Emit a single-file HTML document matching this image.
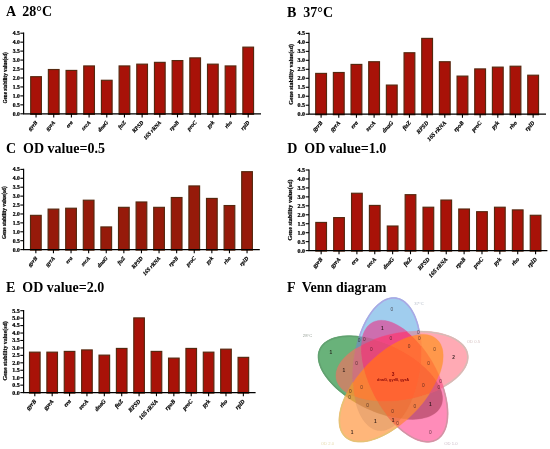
<!DOCTYPE html><html><head><meta charset="utf-8"><title>Figure</title><style>html,body{margin:0;padding:0;background:#fff}svg{display:block}text{font-family:"Liberation Serif",serif;font-weight:bold;fill:#000}.t{font-size:14px}.k{font-size:5.6px;text-anchor:end;stroke:#000;stroke-width:.22px}.yl{font-size:5.6px;text-anchor:middle;stroke:#000;stroke-width:.2px}.g{font-size:5.5px;font-style:italic;text-anchor:end;stroke:#000;stroke-width:.2px}.v{font-family:"Liberation Sans",sans-serif;font-size:4.8px;font-weight:normal;text-anchor:middle;fill:#2a1515}.vl{font-family:"Liberation Sans",sans-serif;font-size:4.2px;font-weight:normal;text-anchor:middle}</style></head><body>
<svg width="550" height="449" viewBox="0 0 550 449">
<rect width="550" height="449" fill="#fff"/>
<text class="t" x="6" y="15.6" xml:space="preserve">A  28°C</text>
<rect x="30.70" y="76.69" width="10.70" height="37.61" fill="#A81208" stroke="#55280F" stroke-width="1.15"/>
<rect x="48.38" y="69.52" width="10.70" height="44.78" fill="#A81208" stroke="#55280F" stroke-width="1.15"/>
<rect x="66.06" y="70.42" width="10.70" height="43.88" fill="#A81208" stroke="#55280F" stroke-width="1.15"/>
<rect x="83.74" y="65.94" width="10.70" height="48.36" fill="#A81208" stroke="#55280F" stroke-width="1.15"/>
<rect x="101.42" y="80.27" width="10.70" height="34.03" fill="#A81208" stroke="#55280F" stroke-width="1.15"/>
<rect x="119.10" y="65.94" width="10.70" height="48.36" fill="#A81208" stroke="#55280F" stroke-width="1.15"/>
<rect x="136.78" y="64.15" width="10.70" height="50.15" fill="#A81208" stroke="#55280F" stroke-width="1.15"/>
<rect x="154.46" y="62.36" width="10.70" height="51.94" fill="#A81208" stroke="#55280F" stroke-width="1.15"/>
<rect x="172.14" y="60.57" width="10.70" height="53.73" fill="#A81208" stroke="#55280F" stroke-width="1.15"/>
<rect x="189.82" y="57.88" width="10.70" height="56.42" fill="#A81208" stroke="#55280F" stroke-width="1.15"/>
<rect x="207.50" y="64.15" width="10.70" height="50.15" fill="#A81208" stroke="#55280F" stroke-width="1.15"/>
<rect x="225.18" y="65.94" width="10.70" height="48.36" fill="#A81208" stroke="#55280F" stroke-width="1.15"/>
<rect x="242.86" y="47.13" width="10.70" height="67.17" fill="#A81208" stroke="#55280F" stroke-width="1.15"/>
<path d="M23.6 32.6V113.8H261" fill="none" stroke="#000" stroke-width="1.2"/>
<path d="M20.3 113.80H23.6" stroke="#000" stroke-width="1.1"/>
<text class="k" style="font-size:5.6px" x="19.700000000000003" y="115.70">0.0</text>
<path d="M20.3 104.84H23.6" stroke="#000" stroke-width="1.1"/>
<text class="k" style="font-size:5.6px" x="19.700000000000003" y="106.74">0.5</text>
<path d="M20.3 95.89H23.6" stroke="#000" stroke-width="1.1"/>
<text class="k" style="font-size:5.6px" x="19.700000000000003" y="97.79">1.0</text>
<path d="M20.3 86.93H23.6" stroke="#000" stroke-width="1.1"/>
<text class="k" style="font-size:5.6px" x="19.700000000000003" y="88.83">1.5</text>
<path d="M20.3 77.98H23.6" stroke="#000" stroke-width="1.1"/>
<text class="k" style="font-size:5.6px" x="19.700000000000003" y="79.88">2.0</text>
<path d="M20.3 69.02H23.6" stroke="#000" stroke-width="1.1"/>
<text class="k" style="font-size:5.6px" x="19.700000000000003" y="70.92">2.5</text>
<path d="M20.3 60.07H23.6" stroke="#000" stroke-width="1.1"/>
<text class="k" style="font-size:5.6px" x="19.700000000000003" y="61.97">3.0</text>
<path d="M20.3 51.11H23.6" stroke="#000" stroke-width="1.1"/>
<text class="k" style="font-size:5.6px" x="19.700000000000003" y="53.01">3.5</text>
<path d="M20.3 42.16H23.6" stroke="#000" stroke-width="1.1"/>
<text class="k" style="font-size:5.6px" x="19.700000000000003" y="44.06">4.0</text>
<path d="M20.3 33.20H23.6" stroke="#000" stroke-width="1.1"/>
<text class="k" style="font-size:5.6px" x="19.700000000000003" y="35.10">4.5</text>
<path d="M36.05 113.8v3.6" stroke="#000" stroke-width="1.1"/>
<text class="g" style="font-size:5.5px" transform="translate(37.85 122.80) rotate(-47)">gyrB</text>
<path d="M53.73 113.8v3.6" stroke="#000" stroke-width="1.1"/>
<text class="g" style="font-size:5.5px" transform="translate(55.53 122.80) rotate(-47)">gyrA</text>
<path d="M71.41 113.8v3.6" stroke="#000" stroke-width="1.1"/>
<text class="g" style="font-size:5.5px" transform="translate(73.21 122.80) rotate(-47)">era</text>
<path d="M89.09 113.8v3.6" stroke="#000" stroke-width="1.1"/>
<text class="g" style="font-size:5.5px" transform="translate(90.89 122.80) rotate(-47)">secA</text>
<path d="M106.77 113.8v3.6" stroke="#000" stroke-width="1.1"/>
<text class="g" style="font-size:5.5px" transform="translate(108.57 122.80) rotate(-47)">dnaG</text>
<path d="M124.45 113.8v3.6" stroke="#000" stroke-width="1.1"/>
<text class="g" style="font-size:5.5px" transform="translate(126.25 122.80) rotate(-47)">ftsZ</text>
<path d="M142.13 113.8v3.6" stroke="#000" stroke-width="1.1"/>
<text class="g" style="font-size:5.5px" transform="translate(143.93 122.80) rotate(-47)">RPSD</text>
<path d="M159.81 113.8v3.6" stroke="#000" stroke-width="1.1"/>
<text class="g" style="font-size:5.5px" transform="translate(161.61 122.80) rotate(-47)">16S rRNA</text>
<path d="M177.49 113.8v3.6" stroke="#000" stroke-width="1.1"/>
<text class="g" style="font-size:5.5px" transform="translate(179.29 122.80) rotate(-47)">rpoB</text>
<path d="M195.17 113.8v3.6" stroke="#000" stroke-width="1.1"/>
<text class="g" style="font-size:5.5px" transform="translate(196.97 122.80) rotate(-47)">proC</text>
<path d="M212.85 113.8v3.6" stroke="#000" stroke-width="1.1"/>
<text class="g" style="font-size:5.5px" transform="translate(214.65 122.80) rotate(-47)">pyk</text>
<path d="M230.53 113.8v3.6" stroke="#000" stroke-width="1.1"/>
<text class="g" style="font-size:5.5px" transform="translate(232.33 122.80) rotate(-47)">rho</text>
<path d="M248.21 113.8v3.6" stroke="#000" stroke-width="1.1"/>
<text class="g" style="font-size:5.5px" transform="translate(250.01 122.80) rotate(-47)">rplD</text>
<text class="yl" style="font-size:5.1px" transform="translate(6.68 77.80) rotate(-90)">Gene stability value(sd)</text>
<text class="t" x="287" y="17.4" xml:space="preserve">B  37°C</text>
<rect x="315.70" y="73.40" width="10.80" height="41.30" fill="#A81208" stroke="#55280F" stroke-width="1.15"/>
<rect x="333.37" y="72.50" width="10.80" height="42.20" fill="#A81208" stroke="#55280F" stroke-width="1.15"/>
<rect x="351.04" y="64.42" width="10.80" height="50.28" fill="#A81208" stroke="#55280F" stroke-width="1.15"/>
<rect x="368.71" y="61.73" width="10.80" height="52.97" fill="#A81208" stroke="#55280F" stroke-width="1.15"/>
<rect x="386.38" y="85.07" width="10.80" height="29.63" fill="#A81208" stroke="#55280F" stroke-width="1.15"/>
<rect x="404.05" y="52.75" width="10.80" height="61.95" fill="#A81208" stroke="#55280F" stroke-width="1.15"/>
<rect x="421.72" y="38.39" width="10.80" height="76.31" fill="#A81208" stroke="#55280F" stroke-width="1.15"/>
<rect x="439.39" y="61.73" width="10.80" height="52.97" fill="#A81208" stroke="#55280F" stroke-width="1.15"/>
<rect x="457.06" y="76.10" width="10.80" height="38.60" fill="#A81208" stroke="#55280F" stroke-width="1.15"/>
<rect x="474.73" y="68.91" width="10.80" height="45.79" fill="#A81208" stroke="#55280F" stroke-width="1.15"/>
<rect x="492.40" y="67.12" width="10.80" height="47.58" fill="#A81208" stroke="#55280F" stroke-width="1.15"/>
<rect x="510.07" y="66.22" width="10.80" height="48.48" fill="#A81208" stroke="#55280F" stroke-width="1.15"/>
<rect x="527.74" y="75.20" width="10.80" height="39.50" fill="#A81208" stroke="#55280F" stroke-width="1.15"/>
<path d="M309 32.8V114.2H546" fill="none" stroke="#000" stroke-width="1.2"/>
<path d="M305.7 114.20H309" stroke="#000" stroke-width="1.1"/>
<text class="k" style="font-size:6.0px" x="305.1" y="116.10">0.0</text>
<path d="M305.7 105.22H309" stroke="#000" stroke-width="1.1"/>
<text class="k" style="font-size:6.0px" x="305.1" y="107.12">0.5</text>
<path d="M305.7 96.24H309" stroke="#000" stroke-width="1.1"/>
<text class="k" style="font-size:6.0px" x="305.1" y="98.14">1.0</text>
<path d="M305.7 87.27H309" stroke="#000" stroke-width="1.1"/>
<text class="k" style="font-size:6.0px" x="305.1" y="89.17">1.5</text>
<path d="M305.7 78.29H309" stroke="#000" stroke-width="1.1"/>
<text class="k" style="font-size:6.0px" x="305.1" y="80.19">2.0</text>
<path d="M305.7 69.31H309" stroke="#000" stroke-width="1.1"/>
<text class="k" style="font-size:6.0px" x="305.1" y="71.21">2.5</text>
<path d="M305.7 60.33H309" stroke="#000" stroke-width="1.1"/>
<text class="k" style="font-size:6.0px" x="305.1" y="62.23">3.0</text>
<path d="M305.7 51.36H309" stroke="#000" stroke-width="1.1"/>
<text class="k" style="font-size:6.0px" x="305.1" y="53.26">3.5</text>
<path d="M305.7 42.38H309" stroke="#000" stroke-width="1.1"/>
<text class="k" style="font-size:6.0px" x="305.1" y="44.28">4.0</text>
<path d="M305.7 33.40H309" stroke="#000" stroke-width="1.1"/>
<text class="k" style="font-size:6.0px" x="305.1" y="35.30">4.5</text>
<path d="M321.10 114.2v3.6" stroke="#000" stroke-width="1.1"/>
<text class="g" style="font-size:5.9px" transform="translate(322.90 123.20) rotate(-47)">gyrB</text>
<path d="M338.77 114.2v3.6" stroke="#000" stroke-width="1.1"/>
<text class="g" style="font-size:5.9px" transform="translate(340.57 123.20) rotate(-47)">gyrA</text>
<path d="M356.44 114.2v3.6" stroke="#000" stroke-width="1.1"/>
<text class="g" style="font-size:5.9px" transform="translate(358.24 123.20) rotate(-47)">era</text>
<path d="M374.11 114.2v3.6" stroke="#000" stroke-width="1.1"/>
<text class="g" style="font-size:5.9px" transform="translate(375.91 123.20) rotate(-47)">secA</text>
<path d="M391.78 114.2v3.6" stroke="#000" stroke-width="1.1"/>
<text class="g" style="font-size:5.9px" transform="translate(393.58 123.20) rotate(-47)">dnaG</text>
<path d="M409.45 114.2v3.6" stroke="#000" stroke-width="1.1"/>
<text class="g" style="font-size:5.9px" transform="translate(411.25 123.20) rotate(-47)">ftsZ</text>
<path d="M427.12 114.2v3.6" stroke="#000" stroke-width="1.1"/>
<text class="g" style="font-size:5.9px" transform="translate(428.92 123.20) rotate(-47)">RPSD</text>
<path d="M444.79 114.2v3.6" stroke="#000" stroke-width="1.1"/>
<text class="g" style="font-size:5.9px" transform="translate(446.59 123.20) rotate(-47)">16S rRNA</text>
<path d="M462.46 114.2v3.6" stroke="#000" stroke-width="1.1"/>
<text class="g" style="font-size:5.9px" transform="translate(464.26 123.20) rotate(-47)">rpoB</text>
<path d="M480.13 114.2v3.6" stroke="#000" stroke-width="1.1"/>
<text class="g" style="font-size:5.9px" transform="translate(481.93 123.20) rotate(-47)">proC</text>
<path d="M497.80 114.2v3.6" stroke="#000" stroke-width="1.1"/>
<text class="g" style="font-size:5.9px" transform="translate(499.60 123.20) rotate(-47)">pyk</text>
<path d="M515.47 114.2v3.6" stroke="#000" stroke-width="1.1"/>
<text class="g" style="font-size:5.9px" transform="translate(517.27 123.20) rotate(-47)">rho</text>
<path d="M533.14 114.2v3.6" stroke="#000" stroke-width="1.1"/>
<text class="g" style="font-size:5.9px" transform="translate(534.94 123.20) rotate(-47)">rplD</text>
<text class="yl" style="font-size:6.05px" transform="translate(292.63 74.30) rotate(-90)">Gene stability value(sd)</text>
<text class="t" x="6" y="152.7" xml:space="preserve">C  OD value=0.5</text>
<rect x="30.50" y="215.35" width="10.70" height="34.75" fill="#961A0A" stroke="#55280F" stroke-width="1.15"/>
<rect x="48.10" y="209.11" width="10.70" height="40.99" fill="#961A0A" stroke="#55280F" stroke-width="1.15"/>
<rect x="65.70" y="208.22" width="10.70" height="41.88" fill="#961A0A" stroke="#55280F" stroke-width="1.15"/>
<rect x="83.30" y="200.20" width="10.70" height="49.90" fill="#961A0A" stroke="#55280F" stroke-width="1.15"/>
<rect x="100.90" y="226.93" width="10.70" height="23.17" fill="#961A0A" stroke="#55280F" stroke-width="1.15"/>
<rect x="118.50" y="207.33" width="10.70" height="42.77" fill="#961A0A" stroke="#55280F" stroke-width="1.15"/>
<rect x="136.10" y="201.98" width="10.70" height="48.12" fill="#961A0A" stroke="#55280F" stroke-width="1.15"/>
<rect x="153.70" y="207.33" width="10.70" height="42.77" fill="#961A0A" stroke="#55280F" stroke-width="1.15"/>
<rect x="171.30" y="197.52" width="10.70" height="52.58" fill="#961A0A" stroke="#55280F" stroke-width="1.15"/>
<rect x="188.90" y="185.94" width="10.70" height="64.16" fill="#961A0A" stroke="#55280F" stroke-width="1.15"/>
<rect x="206.50" y="198.42" width="10.70" height="51.68" fill="#961A0A" stroke="#55280F" stroke-width="1.15"/>
<rect x="224.10" y="205.54" width="10.70" height="44.56" fill="#961A0A" stroke="#55280F" stroke-width="1.15"/>
<rect x="241.70" y="171.68" width="10.70" height="78.42" fill="#961A0A" stroke="#55280F" stroke-width="1.15"/>
<path d="M23.6 168.8V249.6H259.8" fill="none" stroke="#000" stroke-width="1.2"/>
<path d="M20.3 249.60H23.6" stroke="#000" stroke-width="1.1"/>
<text class="k" style="font-size:5.6px" x="19.700000000000003" y="251.50">0.0</text>
<path d="M20.3 240.69H23.6" stroke="#000" stroke-width="1.1"/>
<text class="k" style="font-size:5.6px" x="19.700000000000003" y="242.59">0.5</text>
<path d="M20.3 231.78H23.6" stroke="#000" stroke-width="1.1"/>
<text class="k" style="font-size:5.6px" x="19.700000000000003" y="233.68">1.0</text>
<path d="M20.3 222.87H23.6" stroke="#000" stroke-width="1.1"/>
<text class="k" style="font-size:5.6px" x="19.700000000000003" y="224.77">1.5</text>
<path d="M20.3 213.96H23.6" stroke="#000" stroke-width="1.1"/>
<text class="k" style="font-size:5.6px" x="19.700000000000003" y="215.86">2.0</text>
<path d="M20.3 205.04H23.6" stroke="#000" stroke-width="1.1"/>
<text class="k" style="font-size:5.6px" x="19.700000000000003" y="206.94">2.5</text>
<path d="M20.3 196.13H23.6" stroke="#000" stroke-width="1.1"/>
<text class="k" style="font-size:5.6px" x="19.700000000000003" y="198.03">3.0</text>
<path d="M20.3 187.22H23.6" stroke="#000" stroke-width="1.1"/>
<text class="k" style="font-size:5.6px" x="19.700000000000003" y="189.12">3.5</text>
<path d="M20.3 178.31H23.6" stroke="#000" stroke-width="1.1"/>
<text class="k" style="font-size:5.6px" x="19.700000000000003" y="180.21">4.0</text>
<path d="M20.3 169.40H23.6" stroke="#000" stroke-width="1.1"/>
<text class="k" style="font-size:5.6px" x="19.700000000000003" y="171.30">4.5</text>
<path d="M35.85 249.6v3.6" stroke="#000" stroke-width="1.1"/>
<text class="g" style="font-size:5.5px" transform="translate(37.65 258.60) rotate(-47)">gyrB</text>
<path d="M53.45 249.6v3.6" stroke="#000" stroke-width="1.1"/>
<text class="g" style="font-size:5.5px" transform="translate(55.25 258.60) rotate(-47)">gyrA</text>
<path d="M71.05 249.6v3.6" stroke="#000" stroke-width="1.1"/>
<text class="g" style="font-size:5.5px" transform="translate(72.85 258.60) rotate(-47)">era</text>
<path d="M88.65 249.6v3.6" stroke="#000" stroke-width="1.1"/>
<text class="g" style="font-size:5.5px" transform="translate(90.45 258.60) rotate(-47)">secA</text>
<path d="M106.25 249.6v3.6" stroke="#000" stroke-width="1.1"/>
<text class="g" style="font-size:5.5px" transform="translate(108.05 258.60) rotate(-47)">dnaG</text>
<path d="M123.85 249.6v3.6" stroke="#000" stroke-width="1.1"/>
<text class="g" style="font-size:5.5px" transform="translate(125.65 258.60) rotate(-47)">ftsZ</text>
<path d="M141.45 249.6v3.6" stroke="#000" stroke-width="1.1"/>
<text class="g" style="font-size:5.5px" transform="translate(143.25 258.60) rotate(-47)">RPSD</text>
<path d="M159.05 249.6v3.6" stroke="#000" stroke-width="1.1"/>
<text class="g" style="font-size:5.5px" transform="translate(160.85 258.60) rotate(-47)">16S rRNA</text>
<path d="M176.65 249.6v3.6" stroke="#000" stroke-width="1.1"/>
<text class="g" style="font-size:5.5px" transform="translate(178.45 258.60) rotate(-47)">rpoB</text>
<path d="M194.25 249.6v3.6" stroke="#000" stroke-width="1.1"/>
<text class="g" style="font-size:5.5px" transform="translate(196.05 258.60) rotate(-47)">proC</text>
<path d="M211.85 249.6v3.6" stroke="#000" stroke-width="1.1"/>
<text class="g" style="font-size:5.5px" transform="translate(213.65 258.60) rotate(-47)">pyk</text>
<path d="M229.45 249.6v3.6" stroke="#000" stroke-width="1.1"/>
<text class="g" style="font-size:5.5px" transform="translate(231.25 258.60) rotate(-47)">rho</text>
<path d="M247.05 249.6v3.6" stroke="#000" stroke-width="1.1"/>
<text class="g" style="font-size:5.5px" transform="translate(248.85 258.60) rotate(-47)">rplD</text>
<text class="yl" style="font-size:5.25px" transform="translate(6.32 212.70) rotate(-90)">Gene stability value(sd)</text>
<text class="t" x="287.2" y="152.7" xml:space="preserve">D  OD value=1.0</text>
<rect x="315.80" y="222.44" width="10.70" height="28.66" fill="#A81208" stroke="#55280F" stroke-width="1.15"/>
<rect x="333.67" y="217.61" width="10.70" height="33.49" fill="#A81208" stroke="#55280F" stroke-width="1.15"/>
<rect x="351.54" y="193.25" width="10.70" height="57.85" fill="#A81208" stroke="#55280F" stroke-width="1.15"/>
<rect x="369.41" y="205.43" width="10.70" height="45.67" fill="#A81208" stroke="#55280F" stroke-width="1.15"/>
<rect x="387.28" y="226.02" width="10.70" height="25.08" fill="#A81208" stroke="#55280F" stroke-width="1.15"/>
<rect x="405.15" y="194.68" width="10.70" height="56.42" fill="#A81208" stroke="#55280F" stroke-width="1.15"/>
<rect x="423.02" y="207.22" width="10.70" height="43.88" fill="#A81208" stroke="#55280F" stroke-width="1.15"/>
<rect x="440.89" y="200.05" width="10.70" height="51.05" fill="#A81208" stroke="#55280F" stroke-width="1.15"/>
<rect x="458.76" y="209.01" width="10.70" height="42.09" fill="#A81208" stroke="#55280F" stroke-width="1.15"/>
<rect x="476.63" y="211.70" width="10.70" height="39.40" fill="#A81208" stroke="#55280F" stroke-width="1.15"/>
<rect x="494.50" y="207.22" width="10.70" height="43.88" fill="#A81208" stroke="#55280F" stroke-width="1.15"/>
<rect x="512.37" y="209.90" width="10.70" height="41.20" fill="#A81208" stroke="#55280F" stroke-width="1.15"/>
<rect x="530.24" y="215.28" width="10.70" height="35.82" fill="#A81208" stroke="#55280F" stroke-width="1.15"/>
<path d="M309 169.4V250.6H547.4" fill="none" stroke="#000" stroke-width="1.2"/>
<path d="M305.7 250.60H309" stroke="#000" stroke-width="1.1"/>
<text class="k" style="font-size:6.0px" x="305.1" y="252.50">0.0</text>
<path d="M305.7 241.64H309" stroke="#000" stroke-width="1.1"/>
<text class="k" style="font-size:6.0px" x="305.1" y="243.54">0.5</text>
<path d="M305.7 232.69H309" stroke="#000" stroke-width="1.1"/>
<text class="k" style="font-size:6.0px" x="305.1" y="234.59">1.0</text>
<path d="M305.7 223.73H309" stroke="#000" stroke-width="1.1"/>
<text class="k" style="font-size:6.0px" x="305.1" y="225.63">1.5</text>
<path d="M305.7 214.78H309" stroke="#000" stroke-width="1.1"/>
<text class="k" style="font-size:6.0px" x="305.1" y="216.68">2.0</text>
<path d="M305.7 205.82H309" stroke="#000" stroke-width="1.1"/>
<text class="k" style="font-size:6.0px" x="305.1" y="207.72">2.5</text>
<path d="M305.7 196.87H309" stroke="#000" stroke-width="1.1"/>
<text class="k" style="font-size:6.0px" x="305.1" y="198.77">3.0</text>
<path d="M305.7 187.91H309" stroke="#000" stroke-width="1.1"/>
<text class="k" style="font-size:6.0px" x="305.1" y="189.81">3.5</text>
<path d="M305.7 178.96H309" stroke="#000" stroke-width="1.1"/>
<text class="k" style="font-size:6.0px" x="305.1" y="180.86">4.0</text>
<path d="M305.7 170.00H309" stroke="#000" stroke-width="1.1"/>
<text class="k" style="font-size:6.0px" x="305.1" y="171.90">4.5</text>
<path d="M321.15 250.6v3.6" stroke="#000" stroke-width="1.1"/>
<text class="g" style="font-size:5.9px" transform="translate(322.95 259.60) rotate(-47)">gyrB</text>
<path d="M339.02 250.6v3.6" stroke="#000" stroke-width="1.1"/>
<text class="g" style="font-size:5.9px" transform="translate(340.82 259.60) rotate(-47)">gyrA</text>
<path d="M356.89 250.6v3.6" stroke="#000" stroke-width="1.1"/>
<text class="g" style="font-size:5.9px" transform="translate(358.69 259.60) rotate(-47)">era</text>
<path d="M374.76 250.6v3.6" stroke="#000" stroke-width="1.1"/>
<text class="g" style="font-size:5.9px" transform="translate(376.56 259.60) rotate(-47)">secA</text>
<path d="M392.63 250.6v3.6" stroke="#000" stroke-width="1.1"/>
<text class="g" style="font-size:5.9px" transform="translate(394.43 259.60) rotate(-47)">dnaG</text>
<path d="M410.50 250.6v3.6" stroke="#000" stroke-width="1.1"/>
<text class="g" style="font-size:5.9px" transform="translate(412.30 259.60) rotate(-47)">ftsZ</text>
<path d="M428.37 250.6v3.6" stroke="#000" stroke-width="1.1"/>
<text class="g" style="font-size:5.9px" transform="translate(430.17 259.60) rotate(-47)">RPSD</text>
<path d="M446.24 250.6v3.6" stroke="#000" stroke-width="1.1"/>
<text class="g" style="font-size:5.9px" transform="translate(448.04 259.60) rotate(-47)">16S rRNA</text>
<path d="M464.11 250.6v3.6" stroke="#000" stroke-width="1.1"/>
<text class="g" style="font-size:5.9px" transform="translate(465.91 259.60) rotate(-47)">rpoB</text>
<path d="M481.98 250.6v3.6" stroke="#000" stroke-width="1.1"/>
<text class="g" style="font-size:5.9px" transform="translate(483.78 259.60) rotate(-47)">proC</text>
<path d="M499.85 250.6v3.6" stroke="#000" stroke-width="1.1"/>
<text class="g" style="font-size:5.9px" transform="translate(501.65 259.60) rotate(-47)">pyk</text>
<path d="M517.72 250.6v3.6" stroke="#000" stroke-width="1.1"/>
<text class="g" style="font-size:5.9px" transform="translate(519.52 259.60) rotate(-47)">rho</text>
<path d="M535.59 250.6v3.6" stroke="#000" stroke-width="1.1"/>
<text class="g" style="font-size:5.9px" transform="translate(537.39 259.60) rotate(-47)">rplD</text>
<text class="yl" style="font-size:6.08px" transform="translate(292.34 210.00) rotate(-90)">Gene stability value(sd)</text>
<text class="t" x="6" y="292.1" xml:space="preserve">E  OD value=2.0</text>
<rect x="29.50" y="352.15" width="10.60" height="40.95" fill="#A81208" stroke="#55280F" stroke-width="1.15"/>
<rect x="46.88" y="352.15" width="10.60" height="40.95" fill="#A81208" stroke="#55280F" stroke-width="1.15"/>
<rect x="64.26" y="351.41" width="10.60" height="41.69" fill="#A81208" stroke="#55280F" stroke-width="1.15"/>
<rect x="81.64" y="349.92" width="10.60" height="43.18" fill="#A81208" stroke="#55280F" stroke-width="1.15"/>
<rect x="99.02" y="355.13" width="10.60" height="37.97" fill="#A81208" stroke="#55280F" stroke-width="1.15"/>
<rect x="116.40" y="348.43" width="10.60" height="44.67" fill="#A81208" stroke="#55280F" stroke-width="1.15"/>
<rect x="133.78" y="317.90" width="10.60" height="75.20" fill="#A81208" stroke="#55280F" stroke-width="1.15"/>
<rect x="151.16" y="351.41" width="10.60" height="41.69" fill="#A81208" stroke="#55280F" stroke-width="1.15"/>
<rect x="168.54" y="358.11" width="10.60" height="34.99" fill="#A81208" stroke="#55280F" stroke-width="1.15"/>
<rect x="185.92" y="348.43" width="10.60" height="44.67" fill="#A81208" stroke="#55280F" stroke-width="1.15"/>
<rect x="203.30" y="352.15" width="10.60" height="40.95" fill="#A81208" stroke="#55280F" stroke-width="1.15"/>
<rect x="220.68" y="349.17" width="10.60" height="43.93" fill="#A81208" stroke="#55280F" stroke-width="1.15"/>
<rect x="238.06" y="357.36" width="10.60" height="35.74" fill="#A81208" stroke="#55280F" stroke-width="1.15"/>
<path d="M23.6 310.09999999999997V392.6H255.6" fill="none" stroke="#000" stroke-width="1.2"/>
<path d="M20.3 392.60H23.6" stroke="#000" stroke-width="1.1"/>
<text class="k" style="font-size:6.0px" x="19.700000000000003" y="394.50">0.0</text>
<path d="M20.3 385.15H23.6" stroke="#000" stroke-width="1.1"/>
<text class="k" style="font-size:6.0px" x="19.700000000000003" y="387.05">0.5</text>
<path d="M20.3 377.71H23.6" stroke="#000" stroke-width="1.1"/>
<text class="k" style="font-size:6.0px" x="19.700000000000003" y="379.61">1.0</text>
<path d="M20.3 370.26H23.6" stroke="#000" stroke-width="1.1"/>
<text class="k" style="font-size:6.0px" x="19.700000000000003" y="372.16">1.5</text>
<path d="M20.3 362.82H23.6" stroke="#000" stroke-width="1.1"/>
<text class="k" style="font-size:6.0px" x="19.700000000000003" y="364.72">2.0</text>
<path d="M20.3 355.37H23.6" stroke="#000" stroke-width="1.1"/>
<text class="k" style="font-size:6.0px" x="19.700000000000003" y="357.27">2.5</text>
<path d="M20.3 347.93H23.6" stroke="#000" stroke-width="1.1"/>
<text class="k" style="font-size:6.0px" x="19.700000000000003" y="349.83">3.0</text>
<path d="M20.3 340.48H23.6" stroke="#000" stroke-width="1.1"/>
<text class="k" style="font-size:6.0px" x="19.700000000000003" y="342.38">3.5</text>
<path d="M20.3 333.04H23.6" stroke="#000" stroke-width="1.1"/>
<text class="k" style="font-size:6.0px" x="19.700000000000003" y="334.94">4.0</text>
<path d="M20.3 325.59H23.6" stroke="#000" stroke-width="1.1"/>
<text class="k" style="font-size:6.0px" x="19.700000000000003" y="327.49">4.5</text>
<path d="M20.3 318.15H23.6" stroke="#000" stroke-width="1.1"/>
<text class="k" style="font-size:6.0px" x="19.700000000000003" y="320.05">5.0</text>
<path d="M20.3 310.70H23.6" stroke="#000" stroke-width="1.1"/>
<text class="k" style="font-size:6.0px" x="19.700000000000003" y="312.60">5.5</text>
<path d="M34.80 392.6v3.6" stroke="#000" stroke-width="1.1"/>
<text class="g" style="font-size:5.9px" transform="translate(36.60 401.60) rotate(-47)">gyrB</text>
<path d="M52.18 392.6v3.6" stroke="#000" stroke-width="1.1"/>
<text class="g" style="font-size:5.9px" transform="translate(53.98 401.60) rotate(-47)">gyrA</text>
<path d="M69.56 392.6v3.6" stroke="#000" stroke-width="1.1"/>
<text class="g" style="font-size:5.9px" transform="translate(71.36 401.60) rotate(-47)">era</text>
<path d="M86.94 392.6v3.6" stroke="#000" stroke-width="1.1"/>
<text class="g" style="font-size:5.9px" transform="translate(88.74 401.60) rotate(-47)">secA</text>
<path d="M104.32 392.6v3.6" stroke="#000" stroke-width="1.1"/>
<text class="g" style="font-size:5.9px" transform="translate(106.12 401.60) rotate(-47)">dnaG</text>
<path d="M121.70 392.6v3.6" stroke="#000" stroke-width="1.1"/>
<text class="g" style="font-size:5.9px" transform="translate(123.50 401.60) rotate(-47)">ftsZ</text>
<path d="M139.08 392.6v3.6" stroke="#000" stroke-width="1.1"/>
<text class="g" style="font-size:5.9px" transform="translate(140.88 401.60) rotate(-47)">RPSD</text>
<path d="M156.46 392.6v3.6" stroke="#000" stroke-width="1.1"/>
<text class="g" style="font-size:5.9px" transform="translate(158.26 401.60) rotate(-47)">16S rRNA</text>
<path d="M173.84 392.6v3.6" stroke="#000" stroke-width="1.1"/>
<text class="g" style="font-size:5.9px" transform="translate(175.64 401.60) rotate(-47)">rpoB</text>
<path d="M191.22 392.6v3.6" stroke="#000" stroke-width="1.1"/>
<text class="g" style="font-size:5.9px" transform="translate(193.02 401.60) rotate(-47)">proC</text>
<path d="M208.60 392.6v3.6" stroke="#000" stroke-width="1.1"/>
<text class="g" style="font-size:5.9px" transform="translate(210.40 401.60) rotate(-47)">pyk</text>
<path d="M225.98 392.6v3.6" stroke="#000" stroke-width="1.1"/>
<text class="g" style="font-size:5.9px" transform="translate(227.78 401.60) rotate(-47)">rho</text>
<path d="M243.36 392.6v3.6" stroke="#000" stroke-width="1.1"/>
<text class="g" style="font-size:5.9px" transform="translate(245.16 401.60) rotate(-47)">rplD</text>
<text class="yl" style="font-size:5.92px" transform="translate(6.50 350.90) rotate(-90)">Gene stability value(sd)</text>
<text class="t" x="287" y="292.1" xml:space="preserve">F  Venn diagram</text>
<ellipse rx="67" ry="33.6" transform="translate(380.29 377.57) rotate(25.4)" fill="rgb(5, 127, 33)" fill-opacity="0.6"/>
<ellipse rx="67" ry="33.6" transform="translate(387.10 364.05) rotate(97.4)" fill="rgb(97, 172, 227)" fill-opacity="0.6"/>
<ellipse rx="67" ry="33.6" transform="translate(402.07 366.35) rotate(169.4)" fill="rgb(255, 113, 130)" fill-opacity="0.6"/>
<ellipse rx="67" ry="33.6" transform="translate(404.50 381.30) rotate(241.4)" fill="rgb(255, 63, 138)" fill-opacity="0.6"/>
<ellipse rx="67" ry="33.6" transform="translate(391.04 388.23) rotate(313.4)" fill="rgb(255, 130, 30)" fill-opacity="0.6"/>
<path d="M443.5,387.1 448.3,384.3 451.9,381.8 455.1,379.3 457.1,377.6 459.8,374.9 461.4,373.1 462.9,371.3 464.7,368.5 465.8,366.7 466.6,364.8 467.0,363.9 467.5,362.1 467.8,361.2 467.9,360.3 468.2,358.4 468.2,356.7 468.1,354.9 467.9,354.0 467.7,353.2 467.2,351.5 466.6,349.8 466.1,349.0 465.2,347.4 464.1,345.9 463.5,345.2 462.1,343.7 459.7,341.7 457.9,340.4 455.0,338.6 451.7,337.0 449.4,336.0 445.6,334.7 442.9,333.9 440.1,333.2 435.8,332.4 432.8,331.9 428.1,331.4 423.2,331.2 419.7,331.1 420.2,334.4 422.1,334.4 424.2,334.4 426.3,334.6 428.2,335.0 430.1,335.5 431.9,336.2 433.5,337.0 435.0,337.9 435.7,338.4 437.1,339.6 437.7,340.2 438.9,341.5 439.9,343.0 440.3,343.8 441.1,345.4 441.8,347.2 442.1,348.1 442.4,349.1 442.8,351.1 443.1,354.2 443.1,356.5 443.0,358.8 442.6,362.4 441.9,366.2 440.9,370.1 440.0,372.8 439.0,375.4 441.3,381.0 442.5,384.2Z" fill="rgb(255,170,180)" stroke="rgb(255,170,180)" stroke-width="0.4"/>
<path d="M359.0,336.4 353.4,335.9 350.5,335.8 346.3,335.8 342.3,336.1 339.8,336.5 336.2,337.2 332.9,338.2 330.9,339.0 328.0,340.4 327.2,340.9 325.6,342.0 324.8,342.5 323.4,343.8 322.2,345.1 321.6,345.8 320.6,347.3 319.8,348.8 319.1,350.5 318.8,351.3 318.4,353.0 318.3,353.9 318.1,355.8 318.1,357.7 318.3,359.6 318.9,362.6 319.5,364.7 320.7,367.9 322.2,371.1 324.2,374.3 326.5,377.6 328.2,379.8 330.0,382.0 333.1,385.2 335.2,387.4 338.7,390.5 342.5,393.6 345.3,395.7 346.8,392.7 345.3,391.7 343.6,390.4 342.1,389.0 340.7,387.5 339.5,386.0 338.4,384.5 337.6,382.9 336.9,381.2 336.4,379.5 336.2,378.7 336.1,377.8 335.9,376.0 336.0,374.3 336.2,372.5 336.4,371.5 336.9,369.7 337.5,367.9 338.9,365.1 340.6,362.3 342.7,359.6 345.2,356.9 348.0,354.3 351.1,351.7 353.4,350.1 355.7,348.5 357.1,342.7 358.1,339.4Z" fill="rgb(105,178,122)" stroke="rgb(105,178,122)" stroke-width="0.4"/>
<path d="M345.3,395.7 343.1,400.9 341.6,405.0 340.8,407.7 339.9,411.5 339.5,414.0 339.0,417.7 338.9,420.0 339.1,423.3 339.5,426.4 340.0,428.4 340.6,430.2 340.9,431.0 341.8,432.7 342.2,433.5 343.2,435.0 344.4,436.3 345.0,436.9 346.3,438.1 347.1,438.6 348.6,439.5 350.2,440.3 352.0,441.0 352.9,441.2 354.8,441.7 357.9,442.0 361.1,442.1 363.4,441.9 366.9,441.4 370.6,440.6 374.5,439.4 377.1,438.5 381.0,436.8 383.7,435.5 387.8,433.4 390.5,431.7 394.6,429.1 397.5,427.1 395.1,424.8 393.7,425.9 391.9,427.1 390.1,428.1 388.3,429.0 386.5,429.7 384.7,430.2 382.9,430.5 381.1,430.6 380.2,430.6 378.5,430.5 377.6,430.4 375.9,429.9 374.2,429.4 373.4,429.0 371.7,428.1 370.1,427.1 368.6,425.9 366.4,423.8 364.3,421.3 362.3,418.4 360.5,415.3 358.9,411.8 357.4,408.0 356.6,405.3 355.8,402.6 350.7,399.5 347.9,397.6Z" fill="rgb(255,182,122)" stroke="rgb(255,182,122)" stroke-width="0.4"/>
<path d="M397.5,427.1 400.6,429.9 404.0,432.6 407.5,435.0 410.9,437.1 414.2,438.9 416.4,439.9 418.6,440.7 421.8,441.6 424.9,442.1 426.9,442.3 427.8,442.3 429.7,442.2 430.7,442.1 432.5,441.7 433.3,441.5 435.0,440.9 436.6,440.1 438.1,439.2 439.5,438.1 440.2,437.5 440.8,436.9 442.0,435.5 443.1,434.0 444.1,432.3 445.4,429.5 446.5,426.4 447.0,424.2 447.6,420.7 448.0,416.9 448.1,412.9 448.0,410.1 447.8,407.3 447.2,402.9 446.7,399.8 445.7,395.2 444.5,390.5 443.5,387.1 440.5,388.7 441.1,390.4 441.7,392.5 442.2,394.5 442.4,396.5 442.5,398.4 442.4,400.3 442.2,402.1 441.8,403.8 441.5,404.7 440.8,406.3 440.4,407.1 439.5,408.6 438.4,410.0 437.2,411.4 436.5,412.0 435.0,413.2 433.4,414.3 430.7,415.7 427.7,417.0 424.4,417.9 420.8,418.7 416.9,419.1 412.9,419.4 410.1,419.4 407.3,419.3 402.7,423.1 400.0,425.2Z" fill="rgb(255,140,185)" stroke="rgb(255,140,185)" stroke-width="0.4"/>
<path d="M419.7,331.1 418.4,325.6 417.2,321.5 415.8,317.6 414.8,315.1 413.7,312.8 411.9,309.7 409.9,306.8 408.5,305.1 406.4,302.9 405.6,302.2 404.1,301.0 402.5,300.0 400.8,299.1 400.0,298.7 398.3,298.2 396.6,297.7 395.7,297.6 394.0,297.5 393.1,297.5 391.3,297.6 389.5,297.9 388.6,298.2 387.7,298.4 385.9,299.1 384.1,300.0 381.4,301.6 379.7,302.9 377.0,305.1 375.3,306.8 372.8,309.7 371.2,311.8 368.9,315.2 366.6,318.9 365.2,321.5 363.2,325.6 361.9,328.5 360.2,333.1 359.0,336.4 362.3,336.9 362.9,335.1 363.6,333.1 364.4,331.2 365.4,329.5 366.4,327.9 367.6,326.4 368.9,325.1 370.2,323.9 370.9,323.4 372.4,322.5 374.0,321.7 374.8,321.4 376.6,320.9 378.3,320.5 379.3,320.4 381.2,320.3 382.1,320.3 383.1,320.4 385.1,320.6 388.3,321.3 390.4,321.9 392.6,322.7 395.9,324.3 399.3,326.1 402.7,328.3 405.0,330.0 407.2,331.7 413.1,331.3 416.5,331.1Z" fill="rgb(160,205,238)" stroke="rgb(160,205,238)" stroke-width="0.4"/>
<path d="M359.7,337.0 356.3,336.6 351.9,336.3 349.1,336.3 345.0,336.4 342.4,336.6 338.7,337.2 335.2,338.0 332.0,339.0 330.1,339.9 327.4,341.3 325.9,342.4 325.1,342.9 323.8,344.1 322.5,345.4 322.0,346.1 321.0,347.5 320.6,348.3 319.9,349.8 319.3,351.4 319.1,352.3 318.7,354.0 318.6,354.9 318.6,356.7 318.6,357.6 318.8,359.6 318.9,360.5 319.3,362.5 320.3,365.6 321.1,367.7 322.7,370.8 323.9,373.0 326.1,376.2 328.6,379.5 331.4,382.7 333.4,384.9 336.7,388.1 339.1,390.2 342.8,393.2 346.2,395.8" fill="none" stroke="rgb(96,158,110)" stroke-opacity="0.85" stroke-width="1.5"/>
<path d="M419.3,331.9 418.6,328.6 417.6,324.3 416.7,321.6 415.3,317.8 414.3,315.3 412.6,312.0 410.8,308.9 408.8,306.3 407.5,304.7 405.3,302.6 403.8,301.4 403.0,300.9 401.4,300.0 399.8,299.2 399.0,298.9 397.3,298.4 396.5,298.2 394.8,298.0 393.1,298.0 392.2,298.0 390.5,298.2 389.6,298.4 387.9,298.9 387.0,299.2 385.2,300.0 384.3,300.4 382.6,301.4 380.0,303.3 378.2,304.7 375.7,307.2 374.0,309.0 371.6,312.1 369.3,315.4 367.1,319.1 365.7,321.7 363.7,325.9 362.4,328.7 360.6,333.2 359.3,337.3" fill="none" stroke="rgb(172,160,226)" stroke-opacity="0.85" stroke-width="1.5"/>
<path d="M442.6,387.0 445.5,385.4 449.3,383.0 451.6,381.4 454.8,378.9 456.8,377.2 459.5,374.6 461.8,371.9 463.7,369.2 464.8,367.4 466.1,364.6 466.8,362.8 467.1,361.9 467.5,360.2 467.7,358.4 467.7,357.5 467.7,355.8 467.6,355.0 467.3,353.3 466.8,351.6 466.5,350.8 465.7,349.2 465.3,348.5 464.3,347.0 463.7,346.2 462.4,344.8 461.7,344.1 460.2,342.7 457.7,340.8 455.8,339.6 452.6,337.9 450.4,336.9 446.7,335.6 442.8,334.4 438.6,333.4 435.7,332.9 431.1,332.2 428.0,331.9 423.2,331.7 419.0,331.6" fill="none" stroke="rgb(205,192,182)" stroke-opacity="0.85" stroke-width="1.5"/>
<path d="M397.3,426.2 399.8,428.5 403.2,431.3 405.5,433.0 408.9,435.4 411.1,436.7 414.4,438.4 417.7,439.8 420.9,440.8 422.9,441.3 425.9,441.7 427.8,441.8 428.8,441.8 430.6,441.6 432.3,441.2 433.2,441.0 434.8,440.4 435.6,440.1 437.1,439.3 438.5,438.3 439.2,437.7 440.4,436.5 441.0,435.9 442.2,434.4 442.7,433.7 443.7,432.0 444.1,431.2 445.0,429.3 446.0,426.3 446.5,424.1 447.1,420.6 447.4,418.1 447.6,414.2 447.5,410.1 447.1,405.9 446.7,402.9 445.9,398.4 445.2,395.3 444.0,390.7 442.8,386.6" fill="none" stroke="rgb(200,150,160)" stroke-opacity="0.85" stroke-width="1.5"/>
<path d="M346.1,395.3 344.7,398.4 343.1,402.5 342.1,405.1 341.0,409.1 340.4,411.6 339.8,415.3 339.5,418.9 339.5,422.2 339.7,424.3 340.2,427.3 340.7,429.1 341.0,430.0 341.8,431.7 342.6,433.2 343.1,433.9 344.2,435.3 344.7,435.9 346.0,437.1 347.3,438.2 348.1,438.6 349.6,439.5 350.4,439.8 352.1,440.5 353.0,440.7 354.9,441.2 355.9,441.3 357.9,441.5 361.1,441.6 363.3,441.4 366.8,440.9 369.3,440.4 373.0,439.4 376.9,438.0 380.8,436.4 383.5,435.1 387.6,432.9 390.3,431.3 394.3,428.7 397.8,426.3" fill="none" stroke="rgb(224,196,116)" stroke-opacity="0.85" stroke-width="1.5"/>
<path d="M414.0,395.0 415.1,391.9 416.1,388.7 417.5,383.8 418.3,380.4 419.0,377.0 419.9,371.8 420.4,368.4 420.9,363.8 416.8,360.5 414.1,358.6 411.3,356.6 408.4,354.8 405.5,353.0 402.5,351.2 399.4,349.6 394.7,347.2 390.5,345.3 387.5,347.3 383.4,350.2 379.4,353.3 376.7,355.5 374.1,357.8 370.3,361.4 366.6,365.1 363.6,368.5 364.5,372.1 366.0,376.8 367.7,381.6 369.0,384.8 371.1,389.6 372.6,392.7 375.0,397.4 377.3,401.3 380.9,401.5 384.2,401.6 387.6,401.6 391.0,401.4 394.4,401.2 397.9,400.9 401.3,400.5 406.5,399.7 412.7,398.5Z" fill="rgb(255,100,50)" stroke="rgb(255,100,50)" stroke-width="0.4"/>
<path d="M407.2,331.7 403.8,329.1 401.5,327.6 398.1,325.5 394.8,323.7 391.5,322.3 388.3,321.3 385.1,320.6 383.1,320.4 381.2,320.3 379.3,320.4 378.3,320.5 376.6,320.9 374.8,321.4 374.0,321.7 372.4,322.5 370.9,323.4 370.2,323.9 368.9,325.1 368.2,325.7 367.0,327.1 366.4,327.9 365.4,329.5 364.9,330.3 363.6,333.1 362.9,335.1 362.3,336.9 365.7,337.5 368.8,338.2 374.0,339.4 377.4,338.2 382.3,336.6 387.3,335.2 390.7,334.4 395.9,333.3 399.3,332.7 402.8,332.2Z" fill="rgb(205,110,175)" stroke="rgb(205,110,175)" stroke-width="0.4"/>
<path d="M354.6,349.2 351.1,351.7 348.0,354.3 346.1,356.0 344.3,357.8 341.9,360.5 340.0,363.3 338.9,365.1 337.9,366.9 337.5,367.9 336.9,369.7 336.6,370.6 336.2,372.5 336.0,374.3 335.9,375.2 335.9,376.0 336.1,377.8 336.4,379.5 336.9,381.2 337.6,382.9 338.0,383.7 338.9,385.3 339.5,386.0 340.1,386.8 341.3,388.3 343.6,390.4 345.3,391.7 346.8,392.7 348.4,389.8 350.0,386.9 352.8,382.5 352.7,378.8 352.7,373.6 352.8,370.2 353.2,364.9 353.8,359.7 354.3,356.3 354.9,352.8 355.7,348.5Z" fill="rgb(195,135,105)" stroke="rgb(195,135,105)" stroke-width="0.4"/>
<path d="M355.8,402.6 357.0,406.6 357.9,409.3 359.4,413.0 361.1,416.4 363.0,419.4 365.0,422.2 366.4,423.8 367.8,425.2 368.6,425.9 370.1,427.1 371.7,428.1 372.5,428.6 374.2,429.4 375.9,429.9 377.6,430.4 378.5,430.5 380.2,430.6 381.1,430.6 382.9,430.5 383.8,430.4 384.7,430.2 386.5,429.7 387.4,429.3 389.2,428.6 391.9,427.1 393.7,425.9 395.1,424.8 392.8,422.3 390.6,419.9 387.2,415.9 383.7,414.8 378.8,413.2 373.9,411.4 370.7,410.1 367.5,408.7 362.7,406.4 359.6,404.8Z" fill="rgb(237,167,113)" stroke="rgb(237,167,113)" stroke-width="0.4"/>
<path d="M408.6,419.3 412.9,419.4 415.6,419.2 418.3,419.0 422.0,418.4 425.5,417.6 427.7,417.0 429.7,416.2 432.5,414.8 433.4,414.3 435.0,413.2 435.8,412.6 437.2,411.4 438.4,410.0 439.0,409.3 439.5,408.6 440.4,407.1 441.2,405.5 441.8,403.8 442.0,403.0 442.3,401.2 442.4,400.3 442.5,398.4 442.5,397.5 442.3,395.5 441.7,392.5 441.1,390.4 440.5,388.7 437.5,390.2 434.5,391.5 429.6,393.5 427.5,396.5 424.5,400.7 422.4,403.4 419.0,407.4 416.7,410.0 413.0,413.8 410.5,416.3 407.3,419.3Z" fill="rgb(200,90,125)" stroke="rgb(200,90,125)" stroke-width="0.4"/>
<path d="M439.0,375.4 440.4,371.5 441.2,368.8 442.2,364.9 442.8,361.2 443.1,357.6 443.1,354.2 442.8,351.1 442.4,349.1 441.8,347.2 441.1,345.4 440.8,344.6 439.9,343.0 439.4,342.2 438.9,341.5 437.7,340.2 436.4,339.0 435.0,337.9 434.3,337.4 432.7,336.5 431.0,335.8 430.1,335.5 429.2,335.2 427.3,334.8 424.2,334.4 422.1,334.4 420.2,334.4 420.7,337.7 421.0,341.0 421.4,346.2 423.7,349.2 426.7,353.3 428.6,356.2 431.4,360.6 433.2,363.7 435.6,368.3 437.2,371.4Z" fill="rgb(255,152,75)" stroke="rgb(255,152,75)" stroke-width="0.4"/>
<path d="M420.9,363.8 421.4,357.9 421.5,354.5 421.5,351.0 421.4,346.2 418.4,342.7 416.2,340.3 414.0,338.0 411.8,335.8 408.9,336.6 406.3,337.5 403.7,338.5 401.0,339.7 398.4,340.9 395.6,342.4 392.9,343.9 390.5,345.3 394.7,347.2 397.8,348.8 400.9,350.4 405.5,353.0 409.9,355.7 414.1,358.6 418.1,361.5Z" fill="rgb(255,110,55)" stroke="rgb(255,110,55)" stroke-width="0.4"/>
<path d="M391.7,417.0 396.5,418.0 401.1,418.7 403.0,416.3 404.6,414.1 406.1,411.7 407.6,409.2 409.0,406.6 410.3,403.9 411.6,401.0 412.7,398.5 408.2,399.4 403.1,400.2 397.9,400.9 394.4,401.2 391.0,401.4 385.9,401.6 380.9,401.5 377.3,401.3 379.4,404.9 382.3,409.3 384.3,412.1 387.2,415.9Z" fill="rgb(237,115,60)" stroke="rgb(237,115,60)" stroke-width="0.4"/>
<path d="M390.5,345.3 386.7,343.7 381.8,341.9 378.5,340.8 374.0,339.4 369.6,341.2 366.7,342.5 363.8,343.9 361.0,345.4 360.9,348.3 361.0,351.1 361.1,353.9 361.4,356.8 361.8,359.7 362.3,362.7 362.9,365.8 363.6,368.5 366.6,365.1 369.1,362.6 372.8,359.0 375.4,356.7 379.4,353.3 383.4,350.2 387.5,347.3Z" fill="rgb(228,72,122)" stroke="rgb(228,72,122)" stroke-width="0.4"/>
<path d="M363.6,368.5 359.7,373.0 357.6,375.8 355.5,378.5 352.8,382.5 353.2,387.1 353.5,390.4 353.9,393.5 354.5,396.6 357.3,397.6 359.9,398.4 362.6,399.1 365.4,399.8 368.4,400.3 371.4,400.8 374.5,401.1 377.3,401.3 375.0,397.4 373.4,394.3 371.1,389.6 369.7,386.4 367.7,381.6 366.0,376.8 364.5,372.1Z" fill="rgb(248,128,55)" stroke="rgb(248,128,55)" stroke-width="0.4"/>
<path d="M435.7,379.7 433.3,376.4 431.5,374.2 429.6,372.1 427.5,369.9 425.3,367.8 423.0,365.7 420.9,363.8 420.4,368.4 419.6,373.6 419.0,377.0 417.9,382.1 416.6,387.1 415.6,390.3 414.0,395.0 412.7,398.5 416.8,397.5 421.8,396.1 425.1,395.1 429.6,393.5 432.1,389.5 433.7,386.7 435.2,383.9 436.6,381.1Z" fill="rgb(250,105,55)" stroke="rgb(250,105,55)" stroke-width="0.4"/>
<path d="M359.6,404.8 364.3,407.2 367.5,408.7 370.7,410.1 373.9,411.4 377.1,412.7 380.4,413.8 383.7,414.8 387.2,415.9 384.3,412.1 382.3,409.3 379.4,404.9 377.3,401.3 374.5,401.1 371.4,400.8 368.4,400.3 365.4,399.8 362.6,399.1 359.9,398.4 357.3,397.6 354.5,396.6 355.1,399.6 355.8,402.6Z" fill="rgb(215,140,80)" stroke="rgb(215,140,80)" stroke-width="0.4"/>
<path d="M436.6,381.1 437.9,378.3 439.0,375.4 437.2,371.4 435.6,368.3 433.2,363.7 431.4,360.6 428.6,356.2 426.7,353.3 423.7,349.2 421.4,346.2 421.5,351.0 421.5,354.5 421.3,359.7 420.9,363.8 423.0,365.7 425.3,367.8 427.5,369.9 429.6,372.1 431.5,374.2 433.3,376.4 434.9,378.6Z" fill="rgb(255,125,60)" stroke="rgb(255,125,60)" stroke-width="0.4"/>
<path d="M401.2,418.7 404.2,419.0 407.3,419.3 410.5,416.3 413.0,413.8 416.7,410.0 419.0,407.4 422.4,403.4 424.5,400.7 427.5,396.5 429.6,393.5 425.1,395.1 421.8,396.1 416.8,397.5 412.7,398.5 411.6,401.0 410.3,403.9 409.0,406.6 407.6,409.2 406.1,411.7 404.6,414.1 403.0,416.3Z" fill="rgb(240,125,70)" stroke="rgb(240,125,70)" stroke-width="0.4"/>
<path d="M361.0,345.4 358.4,346.9 355.7,348.5 354.9,352.8 354.3,356.3 353.8,359.7 353.2,364.9 352.8,370.2 352.7,373.6 352.7,378.8 352.8,382.5 355.5,378.5 357.6,375.8 360.8,371.7 363.6,368.5 362.9,365.8 362.3,362.7 361.8,359.7 361.4,356.8 361.1,353.9 361.0,351.1 360.9,348.3Z" fill="rgb(205,115,125)" stroke="rgb(205,115,125)" stroke-width="0.4"/>
<path d="M411.8,335.8 409.5,333.7 407.2,331.7 402.8,332.2 399.3,332.7 395.9,333.3 390.7,334.4 387.3,335.2 382.3,336.6 377.4,338.2 374.0,339.4 378.5,340.8 381.8,341.9 386.7,343.7 390.5,345.3 392.9,343.9 395.6,342.4 398.4,340.9 401.0,339.7 403.7,338.5 406.3,337.5 408.9,336.6Z" fill="rgb(240,70,130)" stroke="rgb(240,70,130)" stroke-width="0.4"/>
<path d="M352.8,382.5 350.9,385.5 349.2,388.4 346.8,392.7 348.1,393.5 350.2,394.7 352.4,395.7 354.5,396.6 353.9,393.5 353.5,390.4 353.2,387.1Z" fill="rgb(225,150,60)" stroke="rgb(225,150,60)" stroke-width="0.4"/>
<path d="M374.0,339.4 370.4,338.5 367.2,337.8 362.3,336.9 362.0,338.4 361.5,340.7 361.2,343.2 361.0,345.4 363.8,343.9 366.7,342.5 369.6,341.2Z" fill="rgb(190,100,150)" stroke="rgb(190,100,150)" stroke-width="0.4"/>
<path d="M421.4,346.2 421.2,342.6 420.9,339.4 420.2,334.4 418.7,334.5 416.4,334.8 413.9,335.3 411.8,335.8 414.0,338.0 416.2,340.3 418.4,342.7Z" fill="rgb(255,140,70)" stroke="rgb(255,140,70)" stroke-width="0.4"/>
<path d="M439.4,386.2 438.3,384.1 436.6,381.1 435.2,383.9 433.7,386.7 432.1,389.5 429.6,393.5 434.5,391.5 437.5,390.2 440.5,388.7Z" fill="rgb(220,90,120)" stroke="rgb(220,90,120)" stroke-width="0.4"/>
<path d="M397.2,423.0 398.9,421.3 401.1,418.7 398.1,418.2 394.9,417.7 391.7,417.0 387.2,415.9 390.6,419.9 392.8,422.3 395.1,424.8Z" fill="rgb(240,120,80)" stroke="rgb(240,120,80)" stroke-width="0.4"/>
<path d="M440.5,388.7 443.5,387.1 442.5,384.2 441.3,381.0 439.0,375.4 437.9,378.3 436.6,381.1 437.7,383.0 438.9,385.1 439.9,387.3Z" fill="rgb(250,110,150)" stroke="rgb(250,110,150)" stroke-width="0.4"/>
<path d="M395.1,424.8 397.5,427.1 400.0,425.2 402.7,423.1 407.3,419.3 404.2,419.0 401.1,418.7 399.7,420.3 398.0,422.1 396.3,423.8Z" fill="rgb(255,134,92)" stroke="rgb(255,134,92)" stroke-width="0.4"/>
<path d="M347.9,397.6 352.1,400.4 355.8,402.6 355.1,399.6 354.5,396.6 352.4,395.7 350.2,394.7 348.1,393.5 346.8,392.7 345.3,395.7Z" fill="rgb(220,160,70)" stroke="rgb(220,160,70)" stroke-width="0.4"/>
<path d="M362.3,336.9 359.0,336.4 358.1,339.4 357.1,342.7 355.7,348.5 358.4,346.9 361.0,345.4 361.2,343.2 361.5,340.7 362.0,338.4Z" fill="rgb(110,150,170)" stroke="rgb(110,150,170)" stroke-width="0.4"/>
<path d="M420.2,334.4 419.7,331.1 416.5,331.1 413.1,331.3 407.2,331.7 409.5,333.7 411.8,335.8 413.9,335.3 416.4,334.8 418.7,334.5Z" fill="rgb(200,160,185)" stroke="rgb(200,160,185)" stroke-width="0.4"/>
<text class="v" x="391.9" y="311.1" fill-opacity=".7">0</text>
<text class="v" x="382.3" y="330.0" style="font-weight:bold;fill:#1a0d0d" fill-opacity=".85">1</text>
<text class="v" x="359" y="342.3" fill-opacity=".7">0</text>
<text class="v" x="364.4" y="341.3" fill-opacity=".7">0</text>
<text class="v" x="390.8" y="340.2" fill-opacity=".7">0</text>
<text class="v" x="418.3" y="334.4" fill-opacity=".7">0</text>
<text class="v" x="419.3" y="339.6" fill-opacity=".7">0</text>
<text class="v" x="409" y="348.1" fill-opacity=".7">0</text>
<text class="v" x="371.3" y="350.9" fill-opacity=".7">0</text>
<text class="v" x="434.7" y="350.9" fill-opacity=".7">0</text>
<text class="v" x="330.9" y="354.3" style="font-weight:bold;fill:#1a0d0d" fill-opacity=".85">1</text>
<text class="v" x="453.6" y="359.1" style="font-weight:bold;fill:#1a0d0d" fill-opacity=".85">2</text>
<text class="v" x="356.6" y="365.3" fill-opacity=".7">0</text>
<text class="v" x="428.6" y="365.3" fill-opacity=".7">0</text>
<text class="v" x="343.9" y="372.1" style="font-weight:bold;fill:#1a0d0d" fill-opacity=".85">1</text>
<text class="v" x="393.0" y="376.2" style="font-weight:bold;fill:#8a0808">3</text>
<text class="v" x="440.6" y="383.4" fill-opacity=".7">0</text>
<text class="v" x="438.8" y="388.6" fill-opacity=".7">0</text>
<text class="v" x="423.4" y="386.9" fill-opacity=".7">0</text>
<text class="v" x="361.7" y="388.6" fill-opacity=".7">0</text>
<text class="v" x="350.4" y="393.4" fill-opacity=".7">0</text>
<text class="v" x="349.7" y="398.5" fill-opacity=".7">0</text>
<text class="v" x="367.5" y="407.1" fill-opacity=".7">0</text>
<text class="v" x="430.3" y="406.4" style="font-weight:bold;fill:#1a0d0d" fill-opacity=".85">1</text>
<text class="v" x="414.8" y="408.1" fill-opacity=".7">0</text>
<text class="v" x="392.6" y="413.3" fill-opacity=".7">0</text>
<text class="v" x="375.4" y="422.9" style="font-weight:bold;fill:#1a0d0d" fill-opacity=".85">1</text>
<text class="v" x="393.2" y="421.8" style="font-weight:bold;fill:#1a0d0d" fill-opacity=".85">1</text>
<text class="v" x="397.7" y="425.3" fill-opacity=".7">0</text>
<text class="v" x="352.1" y="433.8" style="font-weight:bold;fill:#1a0d0d" fill-opacity=".85">1</text>
<text class="v" x="430.3" y="433.8" fill-opacity=".7">0</text>
<text class="v" x="393" y="381" style="font-size:3.9px;font-weight:bold;fill:#8a0808">dnaG, gyrB, gyrA</text>
<text class="vl" x="307.5" y="336.5" style="fill:#9aa39a">28°C</text>
<text class="vl" x="419" y="304.5" style="fill:#b5bcc8">37°C</text>
<text class="vl" x="473.5" y="342.5" style="fill:#d8c4c4">OD 0.5</text>
<text class="vl" x="451" y="444.5" style="fill:#cdbcc8">OD 1.0</text>
<text class="vl" x="327.5" y="444.5" style="fill:#e6dcae">OD 2.0</text>
</svg></body></html>
